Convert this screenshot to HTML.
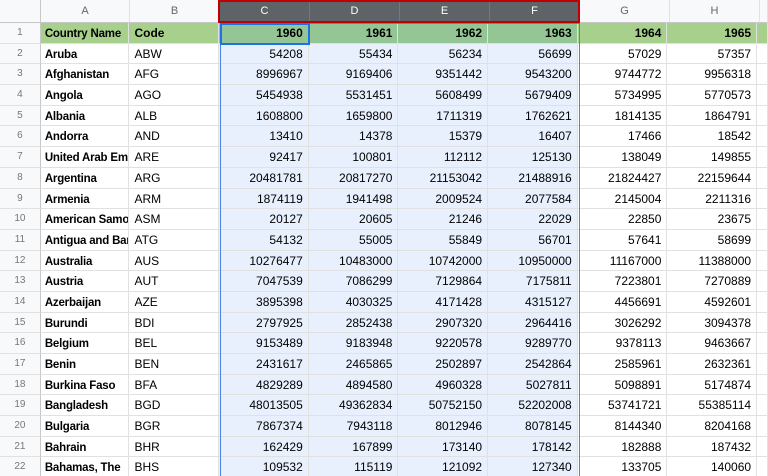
<!DOCTYPE html>
<html style="margin:0;width:768px;height:476px;overflow:hidden"><head><style>
body{margin:0;width:768px;height:476px;overflow:hidden;background:#fff;font-family:"Liberation Sans",Arial,sans-serif;position:relative}
.r{display:flex;height:20.7px}
.c{box-sizing:border-box;border-right:1px solid #e1e1e1;border-bottom:1px solid #e1e1e1;font-size:12px;line-height:20px;padding:0 5px;white-space:nowrap;overflow:hidden;color:#000}
.c:nth-child(1){width:41px;background:#f8f9fa;color:#777;text-align:center;font-size:10px;padding:0;border-right:1px solid #c7c7c7}
.c:nth-child(2){width:89px;font-weight:bold;font-size:11.5px;line-height:19px;padding:2px 0 0 4px;letter-spacing:-0.2px}
.c:nth-child(3){width:90px}
.c:nth-child(n+4){width:90px;text-align:right}
.c:nth-child(n+4):nth-child(-n+7){background:#e8f0fe}
.c:nth-child(10){width:8px}
.h{height:23px}
.h .c{background:#f8f9fa;color:#666;text-align:center;font-size:11px;line-height:23px;font-weight:normal;border-bottom:1px solid #c7c7c7;letter-spacing:0;padding:0}
.h .c:nth-child(n+4):nth-child(-n+7){background:#5f6368;color:#fff;border-right-color:#777}
.g .c:nth-child(n+2){background:#a8d08d;font-weight:bold}
.g .c:nth-child(n+4):nth-child(-n+7){background:#94c595}
.g .c{height:21px}
</style></head><body>
<div class="r h"><div class="c"></div><div class="c">A</div><div class="c">B</div><div class="c">C</div><div class="c">D</div><div class="c">E</div><div class="c">F</div><div class="c">G</div><div class="c">H</div><div class="c"></div></div>
<div class="r g"><div class="c">1</div><div class="c">Country Name</div><div class="c">Code</div><div class="c">1960</div><div class="c">1961</div><div class="c">1962</div><div class="c">1963</div><div class="c">1964</div><div class="c">1965</div><div class="c"></div></div>
<div class="r"><div class="c">2</div><div class="c">Aruba</div><div class="c">ABW</div><div class="c">54208</div><div class="c">55434</div><div class="c">56234</div><div class="c">56699</div><div class="c">57029</div><div class="c">57357</div><div class="c"></div></div>
<div class="r"><div class="c">3</div><div class="c">Afghanistan</div><div class="c">AFG</div><div class="c">8996967</div><div class="c">9169406</div><div class="c">9351442</div><div class="c">9543200</div><div class="c">9744772</div><div class="c">9956318</div><div class="c"></div></div>
<div class="r"><div class="c">4</div><div class="c">Angola</div><div class="c">AGO</div><div class="c">5454938</div><div class="c">5531451</div><div class="c">5608499</div><div class="c">5679409</div><div class="c">5734995</div><div class="c">5770573</div><div class="c"></div></div>
<div class="r"><div class="c">5</div><div class="c">Albania</div><div class="c">ALB</div><div class="c">1608800</div><div class="c">1659800</div><div class="c">1711319</div><div class="c">1762621</div><div class="c">1814135</div><div class="c">1864791</div><div class="c"></div></div>
<div class="r"><div class="c">6</div><div class="c">Andorra</div><div class="c">AND</div><div class="c">13410</div><div class="c">14378</div><div class="c">15379</div><div class="c">16407</div><div class="c">17466</div><div class="c">18542</div><div class="c"></div></div>
<div class="r"><div class="c">7</div><div class="c">United Arab Em</div><div class="c">ARE</div><div class="c">92417</div><div class="c">100801</div><div class="c">112112</div><div class="c">125130</div><div class="c">138049</div><div class="c">149855</div><div class="c"></div></div>
<div class="r"><div class="c">8</div><div class="c">Argentina</div><div class="c">ARG</div><div class="c">20481781</div><div class="c">20817270</div><div class="c">21153042</div><div class="c">21488916</div><div class="c">21824427</div><div class="c">22159644</div><div class="c"></div></div>
<div class="r"><div class="c">9</div><div class="c">Armenia</div><div class="c">ARM</div><div class="c">1874119</div><div class="c">1941498</div><div class="c">2009524</div><div class="c">2077584</div><div class="c">2145004</div><div class="c">2211316</div><div class="c"></div></div>
<div class="r"><div class="c">10</div><div class="c">American Samo</div><div class="c">ASM</div><div class="c">20127</div><div class="c">20605</div><div class="c">21246</div><div class="c">22029</div><div class="c">22850</div><div class="c">23675</div><div class="c"></div></div>
<div class="r"><div class="c">11</div><div class="c">Antigua and Bar</div><div class="c">ATG</div><div class="c">54132</div><div class="c">55005</div><div class="c">55849</div><div class="c">56701</div><div class="c">57641</div><div class="c">58699</div><div class="c"></div></div>
<div class="r"><div class="c">12</div><div class="c">Australia</div><div class="c">AUS</div><div class="c">10276477</div><div class="c">10483000</div><div class="c">10742000</div><div class="c">10950000</div><div class="c">11167000</div><div class="c">11388000</div><div class="c"></div></div>
<div class="r"><div class="c">13</div><div class="c">Austria</div><div class="c">AUT</div><div class="c">7047539</div><div class="c">7086299</div><div class="c">7129864</div><div class="c">7175811</div><div class="c">7223801</div><div class="c">7270889</div><div class="c"></div></div>
<div class="r"><div class="c">14</div><div class="c">Azerbaijan</div><div class="c">AZE</div><div class="c">3895398</div><div class="c">4030325</div><div class="c">4171428</div><div class="c">4315127</div><div class="c">4456691</div><div class="c">4592601</div><div class="c"></div></div>
<div class="r"><div class="c">15</div><div class="c">Burundi</div><div class="c">BDI</div><div class="c">2797925</div><div class="c">2852438</div><div class="c">2907320</div><div class="c">2964416</div><div class="c">3026292</div><div class="c">3094378</div><div class="c"></div></div>
<div class="r"><div class="c">16</div><div class="c">Belgium</div><div class="c">BEL</div><div class="c">9153489</div><div class="c">9183948</div><div class="c">9220578</div><div class="c">9289770</div><div class="c">9378113</div><div class="c">9463667</div><div class="c"></div></div>
<div class="r"><div class="c">17</div><div class="c">Benin</div><div class="c">BEN</div><div class="c">2431617</div><div class="c">2465865</div><div class="c">2502897</div><div class="c">2542864</div><div class="c">2585961</div><div class="c">2632361</div><div class="c"></div></div>
<div class="r"><div class="c">18</div><div class="c">Burkina Faso</div><div class="c">BFA</div><div class="c">4829289</div><div class="c">4894580</div><div class="c">4960328</div><div class="c">5027811</div><div class="c">5098891</div><div class="c">5174874</div><div class="c"></div></div>
<div class="r"><div class="c">19</div><div class="c">Bangladesh</div><div class="c">BGD</div><div class="c">48013505</div><div class="c">49362834</div><div class="c">50752150</div><div class="c">52202008</div><div class="c">53741721</div><div class="c">55385114</div><div class="c"></div></div>
<div class="r"><div class="c">20</div><div class="c">Bulgaria</div><div class="c">BGR</div><div class="c">7867374</div><div class="c">7943118</div><div class="c">8012946</div><div class="c">8078145</div><div class="c">8144340</div><div class="c">8204168</div><div class="c"></div></div>
<div class="r"><div class="c">21</div><div class="c">Bahrain</div><div class="c">BHR</div><div class="c">162429</div><div class="c">167899</div><div class="c">173140</div><div class="c">178142</div><div class="c">182888</div><div class="c">187432</div><div class="c"></div></div>
<div class="r"><div class="c">22</div><div class="c">Bahamas, The</div><div class="c">BHS</div><div class="c">109532</div><div class="c">115119</div><div class="c">121092</div><div class="c">127340</div><div class="c">133705</div><div class="c">140060</div><div class="c"></div></div>
<div style="position:absolute;left:218px;top:0;width:362px;height:23px;box-sizing:border-box;border:2px solid #c00000"></div>
<div style="position:absolute;left:220px;top:23px;width:360px;height:460px;box-sizing:border-box;border:1px solid #4a86e8"></div>
<div style="position:absolute;left:220px;top:23px;width:90px;height:22px;box-sizing:border-box;border:2px solid #1a73e8"></div>
</body></html>
